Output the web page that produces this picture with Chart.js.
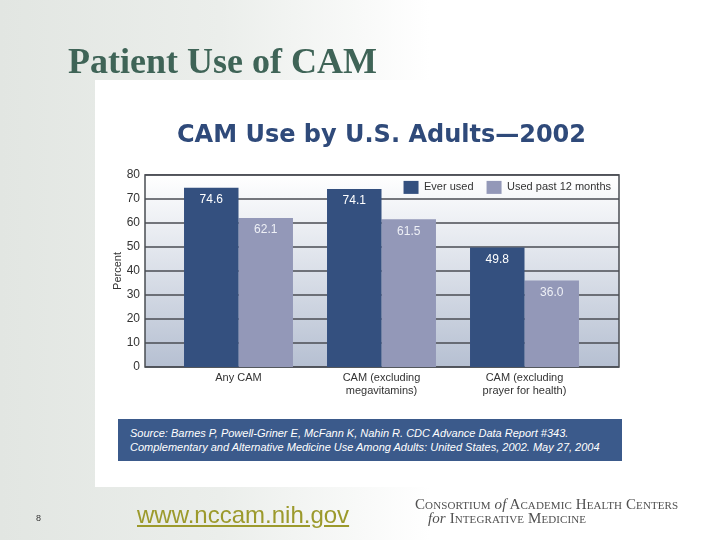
<!DOCTYPE html>
<html>
<head>
<meta charset="utf-8">
<script src="https://cdn.jsdelivr.net/npm/chart.js@4.4.0/dist/chart.umd.min.js"></script>
<style>
  body {
    margin: 0; width: 720px; height: 540px; position: relative; overflow: hidden;
    background: linear-gradient(90deg, #e2e6e2 0px, #ebeeeb 220px, #ffffff 430px);
    font-family: "Liberation Sans", Arial, sans-serif;
  }
  #panel { position: absolute; left: 95px; top: 80px; width: 545px; height: 407px; background: #fff; }
  #chartBox { position: absolute; left: 0; top: 0; width: 720px; height: 540px; }
  #slideTitle {
    position: absolute; left: 68px; top: 43px; margin: 0;
    font: bold 36px/36px "Liberation Serif", "Times New Roman", serif; color: #3f6457;
  }
  #source {
    position: absolute; left: 118px; top: 419px; width: 504px; height: 42px; box-sizing: border-box;
    background: #3b5a8b; color: #fff; font: italic 11px/14px "Liberation Sans", Arial, sans-serif;
    padding: 7px 0 0 12px;
  }
  #pageNum { position: absolute; left: 36px; top: 513px; font-size: 9px; color: #333; }
  #link {
    position: absolute; left: 137px; top: 503px; font: 24px/24px "Liberation Sans", Arial, sans-serif;
    color: #9c9a2c; text-decoration: underline;
  }
  #logo {
    position: absolute; left: 415px; top: 497px; font: 15px/14px "Liberation Serif", serif;
    font-variant: small-caps; color: #505050; letter-spacing: 0.1px;
  }
  #logo i { font-variant: normal; }
  #logo span { padding-left: 13px; }
</style>
</head>
<body>
<div id="panel"></div>
<div id="chartBox"><canvas id="camChart" width="720" height="540"></canvas></div>
<h1 id="slideTitle">Patient Use of CAM</h1>
<div id="source">Source: Barnes P, Powell-Griner E, McFann K, Nahin R. CDC Advance Data Report #343.<br>Complementary and Alternative Medicine Use Among Adults: United States, 2002. May 27, 2004</div>
<div id="pageNum">8</div>
<div id="link">www.nccam.nih.gov</div>
<div id="logo">Consortium <i>of</i> Academic Health Centers<br><span><i>for</i> Integrative Medicine</span></div>

<script>
// Chart data
const categories = ['Any CAM', ['CAM (excluding', 'megavitamins)'], ['CAM (excluding', 'prayer for health)']];
const everUsed = [74.6, 74.1, 49.8];
const usedPastYear = [62.1, 61.5, 36.0];
const seriesNames = ['Ever used', 'Used past 12 months'];
const yMin = 0;
const yMax = 80;
const yStep = 10;

const darkBlue = '#34507f';
const lightBlue = '#9398b8';

// plot frame reaches a bit past the category area on both sides
const frameLeftExt = 22;
const frameRightExt = 23;

// Draws the gradient backdrop, gridlines and frame behind everything
const plotFrame = {
  id: 'plotFrame',
  beforeDraw(chart) {
    const { ctx, chartArea } = chart;
    const yScale = chart.scales.y;
    const left = chartArea.left - frameLeftExt;
    const right = chartArea.right + frameRightExt;
    const top = chartArea.top;
    const bottom = chartArea.bottom;
    ctx.save();
    const grad = ctx.createLinearGradient(0, top, 0, bottom);
    grad.addColorStop(0, '#ffffff');
    grad.addColorStop(1, '#b6c0d2');
    ctx.fillStyle = grad;
    ctx.fillRect(left, top, right - left, bottom - top);
    ctx.strokeStyle = '#4a4d53';
    ctx.lineWidth = 1.5;
    yScale.ticks.forEach(t => {
      const y = Math.round(yScale.getPixelForValue(t.value));
      ctx.beginPath();
      ctx.moveTo(left, y);
      ctx.lineTo(right, y);
      ctx.stroke();
    });
    ctx.strokeRect(left, top, right - left, bottom - top);
    ctx.restore();
  },
  afterLayout(chart) {
    // the legend sits inside the plot, top right
    const lg = chart.legend;
    if (lg) {
      const dx = frameRightExt + 5;
      const dy = chart.chartArea.top + 6 - 13 - lg.top;
      lg.left += dx;
      lg.right += dx;
      lg.top += dy;
      lg.bottom += dy;
    }
  }
};

// Value labels just inside the top of each bar
const barValues = {
  id: 'barValues',
  afterDatasetsDraw(chart) {
    const { ctx } = chart;
    ctx.save();
    ctx.font = '12px "Liberation Sans", Arial, sans-serif';
    ctx.textAlign = 'center';
    ctx.textBaseline = 'middle';
    chart.data.datasets.forEach((ds, i) => {
      const meta = chart.getDatasetMeta(i);
      ctx.fillStyle = i === 0 ? '#ffffff' : '#eef0f6';
      meta.data.forEach((bar, j) => {
        ctx.fillText(ds.data[j].toFixed(1), bar.x, bar.y + 12);
      });
    });
    ctx.restore();
  }
};

const ctx = document.getElementById('camChart').getContext('2d');
const camChart = new Chart(ctx, {
  type: 'bar',
  data: {
    labels: categories,
    datasets: [
      { label: seriesNames[0], data: everUsed, backgroundColor: darkBlue, borderWidth: 0 },
      { label: seriesNames[1], data: usedPastYear, backgroundColor: lightBlue, borderWidth: 0 }
    ]
  },
  options: {
    responsive: false,
    animation: false,
    categoryPercentage: 0.762,
    barPercentage: 1.0,
    layout: { padding: { left: 107, right: 124, top: 61, bottom: 133 } },
    plugins: {
      title: {
        display: true,
        text: 'CAM Use by U.S. Adults\u20142002',
        fullSize: false,
        weight: 500,
        color: '#2f4a7a',
        font: { family: '"DejaVu Sans", sans-serif', size: 24, weight: 'bold' },
        padding: { top: 24.7, bottom: 24.4 }
      },
      legend: {
        position: 'top',
        align: 'end',
        fullSize: false,
        labels: {
          boxWidth: 15,
          boxHeight: 13,
          padding: 13,
          color: '#333',
          font: { family: '"Liberation Sans", Arial, sans-serif', size: 11 }
        }
      },
      tooltip: { enabled: false }
    },
    scales: {
      x: {
        grid: { display: false, drawTicks: false },
        border: { display: false },
        ticks: {
          color: '#333',
          padding: 4,
          maxRotation: 0,
          font: { family: '"Liberation Sans", Arial, sans-serif', size: 11 }
        },
        afterFit(scale) { scale.height = 40; }
      },
      y: {
        min: yMin,
        max: yMax,
        grid: { display: false, drawTicks: false },
        border: { display: false },
        ticks: {
          stepSize: yStep,
          color: '#333',
          padding: 27,
          font: { family: '"Liberation Sans", Arial, sans-serif', size: 12 }
        },
        title: {
          display: true,
          text: 'Percent',
          color: '#333',
          font: { family: '"Liberation Sans", Arial, sans-serif', size: 11 },
          padding: { top: 4, bottom: 4 }
        },
        afterFit(scale) { scale.width = 60; }
      }
    }
  },
  plugins: [plotFrame, barValues]
});
</script>
</body>
</html>
